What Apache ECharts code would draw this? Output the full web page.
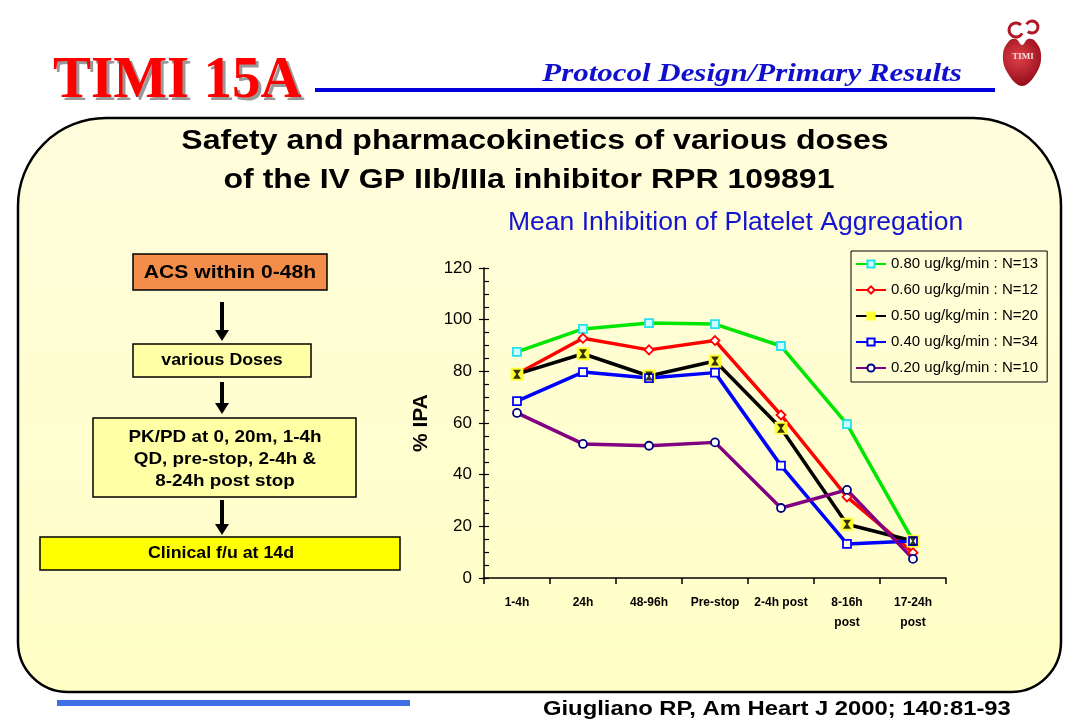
<!DOCTYPE html>
<html>
<head>
<meta charset="utf-8">
<title>TIMI 15A</title>
<script src="https://cdn.jsdelivr.net/npm/echarts@6/dist/echarts.min.js"></script>
<style>
  html, body { margin: 0; padding: 0; background: #fff; }
  #chart { width: 1078px; height: 726px; }
</style>
</head>
<body>
<div id="chart"></div>
<script>
// sampling times after start of infusion
const timePoints = ['1-4h', '24h', '48-96h', 'Pre-stop', '2-4h post', '8-16h\npost', '17-24h\npost']

// y axis ticks (% IPA)
const yMin = 0
const yMax = 120
const yStep = 20

// mean inhibition of platelet aggregation (%), one list per dose group
const doseNames = [
  '0.80 ug/kg/min : N=13',
  '0.60 ug/kg/min : N=12',
  '0.50 ug/kg/min : N=20',
  '0.40 ug/kg/min : N=34',
  '0.20 ug/kg/min : N=10'
]
const dose080 = [87.5, 96.4, 98.7, 98.3, 89.8, 59.6, 14.5]
const dose060 = [79.0, 92.8, 88.3, 91.9, 63.1, 31.4, 9.8]
const dose050 = [78.9, 86.8, 78.2, 84.0, 58.0, 20.8, 14.3]
const dose040 = [68.5, 79.7, 77.4, 79.5, 43.5, 13.2, 14.3]
const dose020 = [63.9, 51.9, 51.2, 52.5, 27.1, 34.1, 7.4]

const SANS = "'Liberation Sans', Arial, sans-serif"
const SERIF = "'Liberation Serif', 'Times New Roman', serif"
const STRETCH = 1.11  // the slide is a bit wider than 4:3

const chart = echarts.init(document.getElementById('chart'))

// plain text helper for the slide decoration
function txt(x, y, text, size, opts) {
  opts = opts || {}
  return {
    type: 'text',
    x: x,
    y: y,
    scaleX: opts.scaleX || STRETCH,
    z: opts.z || 10,
    silent: true,
    style: {
      text: text,
      fill: opts.color || '#000',
      font: (opts.style || '') + ' ' + (opts.weight || 'bold') + ' ' + size + 'px ' + (opts.family || SANS),
      textAlign: opts.align || 'center',
      textVerticalAlign: 'middle',
      lineHeight: opts.lineHeight
    }
  }
}

function box(x, y, w, h, fill) {
  return {
    type: 'rect',
    z: 5,
    silent: true,
    shape: { x: x, y: y, width: w, height: h },
    style: { fill: fill, stroke: '#000', lineWidth: 1.5 }
  }
}

function arrow(y0, y1) {
  return [
    { type: 'rect', z: 5, silent: true, shape: { x: 220, y: y0, width: 4, height: y1 - y0 - 9 }, style: { fill: '#000' } },
    { type: 'polygon', z: 5, silent: true, shape: { points: [[215, y1 - 11], [229, y1 - 11], [222, y1]] }, style: { fill: '#000' } }
  ]
}

const graphics = [
  // cream panel
  {
    type: 'rect',
    z: 0,
    silent: true,
    shape: { x: 18, y: 118, width: 1043, height: 574, r: [88, 88, 50, 50] },
    style: {
      fill: new echarts.graphic.LinearGradient(0, 0, 0, 1, [
        { offset: 0, color: '#FFFDDC' },
        { offset: 1, color: '#FFFFC6' }
      ]),
      stroke: '#000',
      lineWidth: 2.5
    }
  },
  // header
  txt(56, 84, 'TIMI 15A', 60, { family: SERIF, color: '#999', align: 'left', scaleX: 0.95 }),
  txt(53, 81, 'TIMI 15A', 60, { family: SERIF, color: '#FF0000', align: 'left', scaleX: 0.95 }),
  txt(752, 74, 'Protocol Design/Primary Results', 26, { family: SERIF, style: 'italic', color: '#1010CC', scaleX: 1.19 }),
  { type: 'rect', z: 5, silent: true, shape: { x: 315, y: 88, width: 680, height: 4 }, style: { fill: '#0000DD' } },
  // logo
  {
    type: 'polygon', z: 5, silent: true,
    shape: {
      points: [[1022, 86], [1007, 72], [1003, 54], [1009, 41], [1016, 39], [1022, 45], [1028, 39], [1035, 41], [1041, 54], [1037, 72]],
      smooth: 0.4
    },
    style: {
      fill: new echarts.graphic.RadialGradient(0.4, 0.4, 0.7, [
        { offset: 0, color: '#E0404A' },
        { offset: 1, color: '#98101C' }
      ])
    }
  },
  { type: 'arc', z: 5, silent: true, shape: { cx: 1016, cy: 30, r: 7, startAngle: 0.5, endAngle: 5.5 }, style: { stroke: '#B01824', lineWidth: 3, fill: null } },
  { type: 'arc', z: 5, silent: true, shape: { cx: 1032, cy: 27, r: 6, startAngle: 3.6, endAngle: 8.6 }, style: { stroke: '#B01824', lineWidth: 3, fill: null } },
  txt(1023, 57, 'TIMI', 9, { family: SERIF, color: '#F4E0E0', scaleX: 1 }),
  // slide heading
  txt(535, 141, 'Safety and pharmacokinetics of various doses', 28, { scaleX: 1.145 }),
  txt(529, 180, 'of the IV GP IIb/IIIa inhibitor RPR 109891', 28, { scaleX: 1.145 }),
  // flow chart
  box(133, 254, 194, 36, '#F28E4A'),
  txt(230, 273, 'ACS within 0-48h', 19),
  ...arrow(302, 341),
  box(133, 344, 178, 33, '#FFFFA6'),
  txt(222, 361, 'various Doses', 16),
  ...arrow(382, 414),
  box(93, 418, 263, 79, '#FFFFA6'),
  txt(225, 459, 'PK/PD at 0, 20m, 1-4h\nQD, pre-stop, 2-4h &\n8-24h post stop', 17, { lineHeight: 22 }),
  ...arrow(500, 535),
  box(40, 537, 360, 33, '#FFFF00'),
  txt(221, 554, 'Clinical f/u at 14d', 16),
  // footer
  { type: 'rect', z: 5, silent: true, shape: { x: 57, y: 700, width: 353, height: 6 }, style: { fill: '#3F6FE6' } },
  txt(543, 709, 'Giugliano RP, Am Heart J 2000; 140:81-93', 20, { align: 'left', scaleX: 1.19 })
]

function lineSeries(name, data, color, symbol, size, fill, border) {
  return {
    name: name,
    type: 'line',
    data: data,
    symbol: symbol,
    symbolSize: size,
    showSymbol: true,
    lineStyle: { color: color, width: 3.5 },
    itemStyle: { color: fill, borderColor: border, borderWidth: 1.8 },
    emphasis: { disabled: true }
  }
}

chart.setOption({
  animation: false,
  backgroundColor: '#fff',
  textStyle: { fontFamily: SANS },
  graphic: graphics,
  title: {
    text: 'Mean Inhibition of Platelet Aggregation',
    left: 508,
    top: 209,
    padding: 0,
    textStyle: { color: '#1414CC', fontSize: 26.5, fontWeight: 'normal', fontFamily: SANS }
  },
  legend: {
    data: doseNames,
    orient: 'vertical',
    left: 851,
    top: 251,
    padding: [5, 9, 6, 4],
    itemGap: 10,
    itemWidth: 30,
    itemHeight: 9,
    borderColor: '#000',
    borderWidth: 1,
    textStyle: { color: '#000', fontSize: 15, fontFamily: SANS, lineHeight: 16 }
  },
  grid: { left: 484, top: 268, width: 462, height: 310 },
  xAxis: {
    type: 'category',
    data: timePoints,
    boundaryGap: true,
    axisLine: { lineStyle: { color: '#000', width: 1.5 } },
    axisTick: { show: true, length: 6, interval: 0, lineStyle: { color: '#000', width: 1.5 } },
    axisLabel: { interval: 0, color: '#000', fontSize: 12, fontWeight: 'bold', fontFamily: SANS, margin: 15, lineHeight: 20 },
    splitLine: { show: false }
  },
  yAxis: [
    {
      type: 'value',
      position: 'left',
      min: yMin,
      max: yMax,
      interval: yStep,
      name: '% IPA',
      nameLocation: 'middle',
      nameGap: 52,
      nameTextStyle: { color: '#000', fontSize: 21, fontWeight: 'bold', fontFamily: SANS },
      axisLine: { show: true, lineStyle: { color: '#000', width: 1.5 } },
      axisTick: { show: true, length: 5, lineStyle: { color: '#000', width: 1.2 } },
      axisLabel: { color: '#000', fontSize: 17, fontFamily: SANS, margin: 12 },
      splitLine: { show: false }
    },
    {
      // inner half of the ticks plus the minor ticks
      type: 'value',
      position: 'left',
      offset: 0,
      min: yMin,
      max: yMax,
      interval: yStep,
      axisLine: { show: false },
      axisTick: { show: true, inside: true, length: 5, lineStyle: { color: '#000', width: 1.2 } },
      minorTick: { show: true, splitNumber: 4, length: 5, lineStyle: { color: '#000', width: 1.2 } },
      axisLabel: { show: false },
      splitLine: { show: false }
    }
  ],
  series: [
    lineSeries(doseNames[0], dose080, '#00E600', 'rect', 8, '#CCFFFF', '#22E0F0'),
    lineSeries(doseNames[1], dose060, '#FF0000', 'diamond', 9, '#FFFFFF', '#FF0000'),
    lineSeries(doseNames[2], dose050, '#000000', 'rect', 11, '#FFFF33', '#FFFF33'),
    lineSeries(doseNames[3], dose040, '#0000FF', 'rect', 8, '#FFFFF0', '#0000FF'),
    lineSeries(doseNames[4], dose020, '#800080', 'circle', 8, '#FFFFFF', '#000080'),
    {
      // black cross drawn over the yellow squares of the 0.50 group
      type: 'scatter',
      data: dose050,
      symbol: 'path://M0,0L10,0L6,5L10,10L0,10L4,5Z',
      symbolSize: [8, 9],
      itemStyle: { color: '#000' },
      silent: true,
      z: 3
    }
  ]
})
</script>
</body>
</html>
